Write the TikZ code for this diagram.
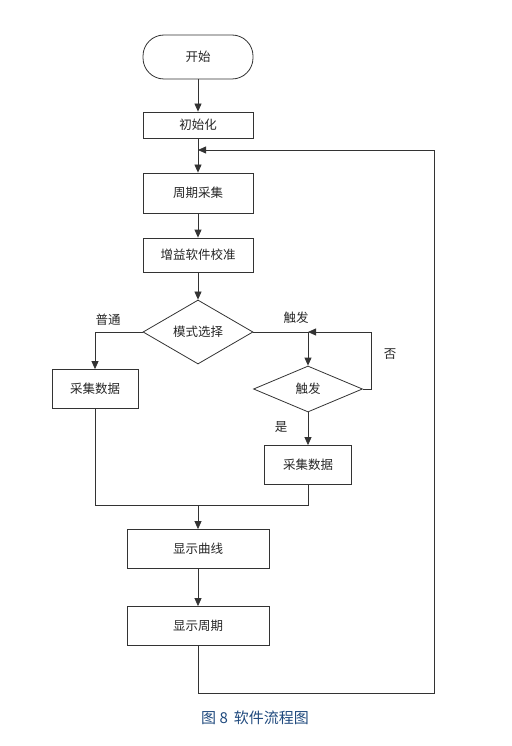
\documentclass[tikz,border=0pt]{standalone}
\usepackage{fontspec}
\newfontfamily\cjk{Noto Sans CJK SC}
\usepackage{tikz}
\usetikzlibrary{arrows.meta,shapes.geometric}
\usepackage{xcolor}
\colorlet{myline}{black!80}
\definecolor{mycaption}{RGB}{31,73,125}
\tikzset{
  >={Triangle[length=8,width=7]}, % small filled arrow heads
  box/.style={draw=myline,line width=0.8pt,inner sep=1pt,font=\cjk\fontsize{12.5}{14}\selectfont,text=black!85},
  term/.style={box,rectangle,rounded corners=21pt,minimum width=110,minimum height=44},
  proc/.style={box,rectangle,minimum width=110,minimum height=38},
  decision/.style={box,diamond,inner sep=0pt,minimum width=110,minimum height=64},
  connect/.style={draw=myline,line width=0.8pt},
  connect arrow/.style={connect,->},
  annot/.style={font=\cjk\fontsize{12.5}{14}\selectfont,text=black!85}
}
\begin{document}
\begin{tikzpicture}[x=1pt, y=-1pt]

% Cadre
\useasboundingbox (0,0) rectangle (511,746);

% Blocs principaux
\node[term] (start) at (198,57) {开始};
\node[proc, minimum height=26] (init) at (198,125) {初始化};
\node[proc, minimum height=40] (cycle) at (198,193) {周期采集};
\node[proc, minimum height=34] (gain) at (198,255) {增益软件校准};
\node[decision] (mode) at (198,332) {模式选择};

% Branche normale
\node[proc, minimum width=86, minimum height=39] (dataA) at (95,389) {采集数据};

% Branche declenchement
\node[decision, minimum width=109, minimum height=46] (trig) at (308,389) {触发};
\node[proc, minimum width=87, minimum height=39] (dataB) at (308,465) {采集数据};

% Affichage
\node[proc, minimum width=142, minimum height=39] (curve) at (198,549) {显示曲线};
\node[proc, minimum width=142, minimum height=39] (period) at (198,626) {显示周期};

% Points de passage
\coordinate (loopin) at (198,150);
\coordinate (trigin) at (308,332);
\coordinate (merge) at (198,505);
\coordinate (corner) at (434,693);

% Connexions
\draw[connect arrow] (start) -- (init);
\draw[connect arrow] (init) -- (cycle);
\draw[connect arrow] (cycle) -- (gain);
\draw[connect arrow] (gain) -- (mode);
\draw[connect arrow] (mode.west) -| (dataA);
\draw[connect] (mode.east) -- (trigin);
\draw[connect arrow] (trigin) -- (trig);
\draw[connect arrow] (trig.east) -- ++(8,0) |- (trigin);
\draw[connect arrow] (trig) -- (dataB);
\draw[connect] (dataA) |- (merge);
\draw[connect] (dataB) |- (merge);
\draw[connect arrow] (merge) -- (curve);
\draw[connect arrow] (curve) -- (period);
\draw[connect arrow] (period) |- (corner) |- (loopin);

% Etiquettes
\node[annot] (lnormal) at (108,320) {普通};
\node[annot] (ltrig) at (296,318) {触发};
\node[annot] (lno) at (390,354) {否};
\node[annot] (lyes) at (281,427) {是};

% Legende
\node[font=\cjk\fontsize{15}{18}\selectfont, text=mycaption] (caption) at (255,718) {图 8\, 软件流程图};

\end{tikzpicture}
\end{document}
